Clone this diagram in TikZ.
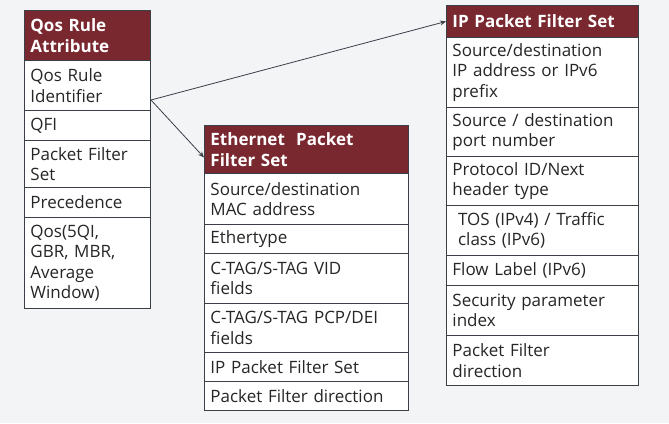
\documentclass[tikz,border=0pt]{standalone}
\usepackage{fontspec}
\setmainfont{Open Sans}
\usetikzlibrary{arrows.meta}
\definecolor{hdr}{HTML}{7A2830}
\definecolor{bg}{HTML}{F2F4F6}
\definecolor{ln}{HTML}{3A3F48}
\begin{document}
\begin{tikzpicture}[x=1pt,y=-1pt,
  cell/.style={draw=ln,line width=0.9pt,fill=white,anchor=north west,inner xsep=6pt,inner ysep=1pt,align=left,text=black!85,font=\fontsize{17}{20.5}\selectfont},
  hd/.style={cell,fill=hdr,text=white,font=\fontsize{17}{20.5}\selectfont\bfseries},
  arr/.style={draw=ln,line width=0.8pt,-{Stealth[length=6pt,width=5pt]}}]
\fill[bg] (0,0) rectangle (669,423);
% left table
\def\cw{126}
\node[hd,text width=114,minimum width=\cw,minimum height=50] (lh) at (24,10) {Qos Rule\\Attribute};
\node[cell,text width=114,minimum width=\cw,minimum height=50] (l1) at (24,60) {Qos Rule\\Identifier};
\node[cell,text width=114,minimum width=\cw,minimum height=30] (l2) at (24,110) {QFI};
\node[cell,text width=114,minimum width=\cw,minimum height=47] (l3) at (24,140) {Packet Filter\\Set};
\node[cell,text width=114,minimum width=\cw,minimum height=30] (l4) at (24,187) {Precedence};
\node[cell,text width=114,minimum width=\cw,minimum height=91] (l5) at (24,217) {Qos(5QI,\\GBR, MBR,\\Average\\Window)};
% middle table
\node[hd,text width=192,minimum width=204,minimum height=48] (mh) at (204,125) {Ethernet\ \ Packet\\Filter Set};
\node[cell,text width=192,minimum width=204,minimum height=51] (m1) at (204,173) {Source/destination\\MAC address};
\node[cell,text width=192,minimum width=204,minimum height=29] (m2) at (204,224) {Ethertype};
\node[cell,text width=192,minimum width=204,minimum height=50] (m3) at (204,253) {C-TAG/S-TAG VID\\fields};
\node[cell,text width=192,minimum width=204,minimum height=49] (m4) at (204,303) {C-TAG/S-TAG PCP/DEI\\fields};
\node[cell,text width=192,minimum width=204,minimum height=29] (m5) at (204,352) {IP Packet Filter Set};
\node[cell,text width=192,minimum width=204,minimum height=29] (m6) at (204,381) {Packet Filter direction};
% right table
\node[hd,text width=180,minimum width=192,minimum height=32] (rh) at (446,5) {IP Packet Filter Set};
\node[cell,text width=180,minimum width=192,minimum height=70] (r1) at (446,37) {Source/destination\\IP address or IPv6\\prefix};
\node[cell,text width=180,minimum width=192,minimum height=49] (r2) at (446,107) {Source / destination\\port number};
\node[cell,text width=180,minimum width=192,minimum height=49] (r3) at (446,156) {Protocol ID/Next\\header type};
\node[cell,text width=180,minimum width=192,minimum height=50] (r4) at (446,205) {\ TOS (IPv4) / Traffic\\\ class (IPv6)};
\node[cell,text width=180,minimum width=192,minimum height=30] (r5) at (446,255) {Flow Label (IPv6)};
\node[cell,text width=180,minimum width=192,minimum height=50] (r6) at (446,285) {Security parameter\\index};
\node[cell,text width=180,minimum width=192,minimum height=50] (r7) at (446,335) {Packet Filter\\direction};
\coordinate (s) at (151,100);
\draw[arr] (s) -- (rh.west);
\draw[arr] (s) -- ([yshift=-8pt]mh.west);
\end{tikzpicture}
\end{document}
